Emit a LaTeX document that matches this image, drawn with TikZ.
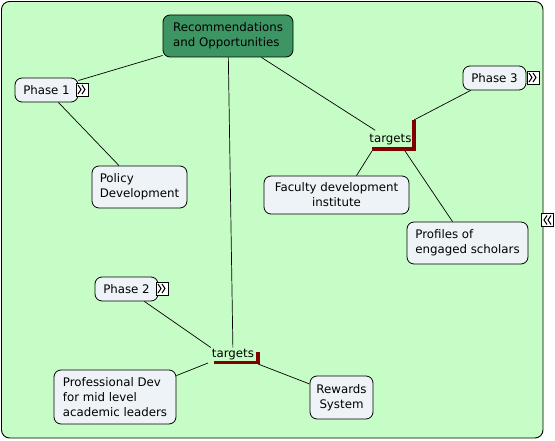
\documentclass[tikz,border=0pt]{standalone}
\usepackage{fontspec}
\setmainfont{DejaVu Sans}
\definecolor{bg}{RGB}{198,253,198}
\definecolor{boxfill}{RGB}{238,243,247}
\definecolor{rootfill}{RGB}{61,149,99}
\definecolor{barred}{RGB}{128,0,0}
\tikzset{
  concept/.style={draw=black, line width=0.8pt, fill=boxfill, rounded corners=7pt, inner sep=0pt, font=\fontsize{11.8}{15}\selectfont},
  rootbox/.style={concept, fill=rootfill},
  link/.style={inner sep=1pt, font=\fontsize{11.8}{15}\selectfont},
  conn/.style={draw=black, line width=0.7pt},
  bar/.style={draw=barred, line width=3.6pt},
  expbox/.style={draw=black, fill=white, line width=0.6pt, minimum width=12pt, minimum height=13pt, inner sep=0pt},
  expandR/.style={expbox, path picture={
    \draw[line width=1.1pt] ([xshift=-4pt,yshift=4.5pt]path picture bounding box.center) -- ++(3pt,-4.5pt) -- ++(-3pt,-4.5pt);
    \draw[line width=1.1pt] ([xshift=0pt,yshift=4.5pt]path picture bounding box.center) -- ++(3pt,-4.5pt) -- ++(-3pt,-4.5pt);}},
  expandL/.style={expbox, path picture={
    \draw[line width=1.1pt] ([xshift=4pt,yshift=4.5pt]path picture bounding box.center) -- ++(-3pt,-4.5pt) -- ++(3pt,-4.5pt);
    \draw[line width=1.1pt] ([xshift=0pt,yshift=4.5pt]path picture bounding box.center) -- ++(-3pt,-4.5pt) -- ++(3pt,-4.5pt);}},
}
\begin{document}
\begin{tikzpicture}[x=1pt,y=-1pt]
\useasboundingbox (0,0) rectangle (555,441);
\fill[white] (0,0) rectangle (555,441);
\draw[fill=bg, line width=0.9pt, rounded corners=8pt] (1.5,1.5) rectangle (543,438);

% concepts
\node[rootbox, minimum width=130pt, minimum height=42pt, align=left] (root) at (228,36) {Recommendations\\and Opportunities};
\node[concept, minimum width=63pt, minimum height=24pt] (p1) at (46.5,90) {Phase 1};
\node[concept, minimum width=95pt, minimum height=42pt, align=left] (pol) at (139.5,187) {Policy\\Development};
\node[concept, minimum width=63pt, minimum height=24pt] (p3) at (494.5,78) {Phase 3};
\node[concept, minimum width=145pt, minimum height=38pt, align=center] (fac) at (336.5,195) {Faculty development\\institute};
\node[concept, minimum width=121pt, minimum height=42pt, align=left] (prof) at (467.5,243) {Profiles of\\engaged scholars};
\node[concept, minimum width=63pt, minimum height=24pt] (p2) at (126.5,289) {Phase 2};
\node[concept, minimum width=122pt, minimum height=54pt, align=left] (pd) at (115,397) {Professional Dev\\for mid level\\academic leaders};
\node[concept, minimum width=63pt, minimum height=43pt, align=center] (rw) at (341.5,397.5) {Rewards\\System};

% linking phrases
\node[link, anchor=base] (t1) at (390.5,143) {targets};
\node[link, anchor=base] (t2) at (233,357) {targets};
\coordinate (t1top) at (414,120);
\coordinate (t1left) at (372,149);
\coordinate (t2top) at (258,352);
\coordinate (t2left) at (214,362.5);
\draw[bar] (t1top) |- (t1left);
\draw[bar] (t2top) |- (t2left);
\coordinate (t1a) at (372,151);
\coordinate (t1b) at (405,151);
\coordinate (t2a) at (208,363);
\coordinate (t2b) at (258,364);

% connectors
\draw[conn] (root) -- (p1);
\draw[conn] (p1) -- (pol);
\draw[conn, shorten >=6pt] (root) -- (t1);
\draw[conn] (p3) -- (t1top);
\draw[conn] (t1a) -- ([xshift=20pt]fac.north);
\draw[conn] (t1b) -- ([xshift=-15pt]prof.north);
\draw[conn] (root) -- (t2);
\draw[conn] (p2) -- (t2.north west);
\draw[conn] (t2a) -- ([yshift=-6pt]pd.north east);
\draw[conn] (t2b) -- ([yshift=13.5pt]rw.west);

% expander icons
\node[expandR] (e1) at (82,89.5) {};
\node[expandR] (e3) at (533,77.5) {};
\node[expandR] (e2) at (162,288.5) {};
\node[expandL] (e4) at (547,220) {};
\end{tikzpicture}
\end{document}
